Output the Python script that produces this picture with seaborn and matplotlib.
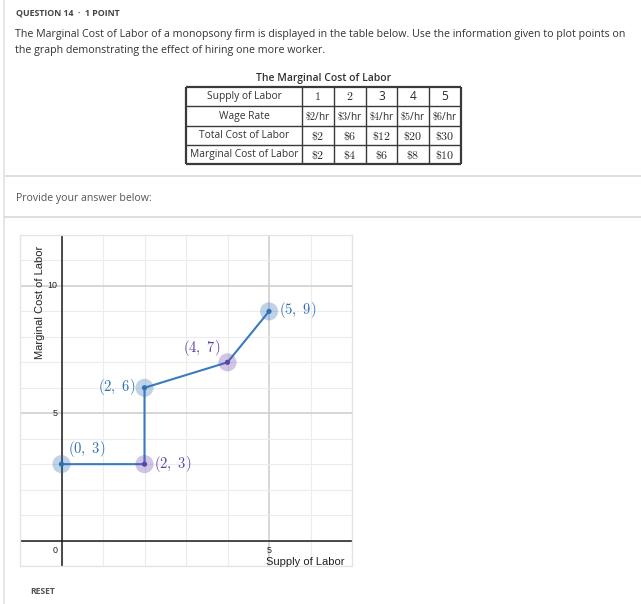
import matplotlib
matplotlib.use("Agg")
import matplotlib.pyplot as plt
import seaborn as sns
import pandas as pd
from matplotlib.lines import Line2D

# ---------------- data ----------------
table_title = "The Marginal Cost of Labor"
row_headers = ["Supply of Labor", "Wage Rate", "Total Cost of Labor", "Marginal Cost of Labor"]
supply_of_labor = [1, 2, 3, 4, 5]
wage_rate = [2, 3, 4, 5, 6]
total_cost = [2, 6, 12, 20, 30]
marginal_cost = [2, 4, 6, 8, 10]

point_x = [0, 2, 2, 4, 5]
point_y = [3, 3, 6, 7, 9]
point_kind = ["blue", "purple", "blue", "purple", "blue"]

x_ticks = [5]
y_ticks = [5, 10]
x_label = "Supply of Labor"
y_label = "Marginal Cost of Labor"

header_text = "QUESTION 14  \u00b7  1 POINT"
question_lines = [
    "The Marginal Cost of Labor of a monopsony firm is displayed in the table below. Use the information given to plot points on",
    "the graph demonstrating the effect of hiring one more worker.",
]
prompt_text = "Provide your answer below:"
reset_text = "RESET"

# ---------------- style ----------------
W, H = 641, 604
BLUE = "#2d70b3"
PURPLE = "#6042a6"
palette = {"blue": BLUE, "purple": PURPLE}
plt.rcParams["mathtext.fontset"] = "cm"
sns.set_style("white")

fig = plt.figure(figsize=(W / 100, H / 100), dpi=100)
fig.patch.set_facecolor("white")


def fx(x):
    return x / W


def fy(y):
    return 1 - y / H


def hline(x0, x1, y, color, lw):
    fig.add_artist(Line2D([fx(x0), fx(x1)], [fy(y), fy(y)], transform=fig.transFigure,
                          color=color, lw=lw, solid_capstyle="butt"))


def vline(x, y0, y1, color, lw):
    fig.add_artist(Line2D([fx(x), fx(x)], [fy(y0), fy(y1)], transform=fig.transFigure,
                          color=color, lw=lw, solid_capstyle="butt"))


SANS = ["Open Sans", "DejaVu Sans"]

# page chrome
vline(3.5, 0, H, "#e2e2e2", 1.2)
hline(4, W, 176, "#dcdcdc", 1.3)
hline(4, W, 217, "#dcdcdc", 1.3)

fig.text(fx(16), fy(13), header_text, family=SANS, fontsize=6.3, fontweight="bold",
         color="#444444", va="center", ha="left")
for i, line in enumerate(question_lines):
    fig.text(fx(15), fy(34 + 17 * i), line, family=SANS, fontsize=7.7, color="#333333",
             va="center", ha="left")
fig.text(fx(16), fy(198), prompt_text, family=SANS, fontsize=7.6, color="#555555",
         va="center", ha="left")
fig.text(fx(30), fy(591), reset_text, family=SANS, fontsize=6.2, fontweight="bold",
         color="#555555", va="center", ha="left")

# table
fig.text(fx(324), fy(78), table_title, family=SANS, fontsize=7.5, fontweight="semibold",
         color="#333333", va="center", ha="center")
col_edges = [186, 302, 334, 366, 397, 429, 461]
row_edges = [87, 106, 126, 145, 164]
for x in col_edges:
    lw = 1.6 if x in (col_edges[0], col_edges[-1]) else 1.0
    vline(x, row_edges[0], row_edges[-1], "#3a3a3a", lw)
for y in row_edges:
    lw = 1.6 if y in (row_edges[0], row_edges[-1]) else 1.0
    hline(col_edges[0], col_edges[-1], y, "#3a3a3a", lw)

rows = [
    [(f"${v}$" if v <= 2 else str(v)) for v in supply_of_labor],
    [rf"$\${v}$/hr" for v in wage_rate],
    [rf"$\${v}$" for v in total_cost],
    [rf"$\${v}$" for v in marginal_cost],
]
for r, header in enumerate(row_headers):
    yc = (row_edges[r] + row_edges[r + 1]) / 2
    fig.text(fx((col_edges[0] + col_edges[1]) / 2), fy(yc), header, family=SANS,
             fontsize=7.4, color="#333333", va="center", ha="center")
    for c, val in enumerate(rows[r]):
        xc = (col_edges[c + 1] + col_edges[c + 2]) / 2
        fs = 7.2 if r == 1 else 8.6
        fig.text(fx(xc), fy(yc), val, family=SANS, fontsize=fs, color="#2a2a2a",
                 va="center", ha="center")

# ---------------- plot ----------------
ax_left, ax_right, ax_top, ax_bottom = 20, 352, 235, 566
ax = fig.add_axes([fx(ax_left), fy(ax_bottom), (ax_right - ax_left) / W, (ax_bottom - ax_top) / H])
ax.set_xlim(-1, 7)
ax.set_ylim(-1, 12)
ax.set_xticks([])
ax.set_yticks([])
for s in ax.spines.values():
    s.set_color("#e4e4e4")
    s.set_linewidth(0.9)

for gx in range(-1, 8):
    major = gx % 5 == 0 and gx != 0
    ax.axvline(gx, color="#cfcfcf" if major else "#ececec", lw=1.2 if major else 0.8, zorder=0)
for gy in range(-1, 13):
    major = gy % 5 == 0 and gy != 0
    ax.axhline(gy, color="#cfcfcf" if major else "#ececec", lw=1.2 if major else 0.8, zorder=0)
ax.axvline(0, color="#1a1a1a", lw=1.1, zorder=1)
ax.axhline(0, color="#1a1a1a", lw=1.1, zorder=1)

TICK = ["Liberation Sans", "DejaVu Sans"]
for t in y_ticks:
    ax.annotate(str(t), (0, t), xytext=(-4, 0), textcoords="offset pixels", ha="right",
                va="center", family=TICK, fontsize=6.4, color="#222222")
ax.annotate("0", (0, 0), xytext=(-4, -5), textcoords="offset pixels", ha="right",
            va="top", family=TICK, fontsize=6.4, color="#222222")
for t in x_ticks:
    ax.annotate(str(t), (t, 0), xytext=(0, -5), textcoords="offset pixels", ha="center",
                va="top", family=TICK, fontsize=6.4, color="#222222")
ax.text(0.976, -0.002, x_label, transform=ax.transAxes, ha="right", va="bottom",
        family=TICK, fontsize=8, color="#222222")
ax.text(0.06, 0.968, y_label, transform=ax.transAxes, ha="center", va="top", rotation=90,
        family=TICK, fontsize=8, color="#222222")

df = pd.DataFrame({"x": point_x, "y": point_y, "kind": point_kind})
sns.lineplot(data=df, x="x", y="y", sort=False, estimator=None, color="#3a7bbf", lw=1.5,
             ax=ax, zorder=3, legend=False)
sns.scatterplot(data=df, x="x", y="y", hue="kind", palette=palette, s=170, alpha=0.3,
                linewidth=0, ax=ax, zorder=4, legend=False)
sns.scatterplot(data=df, x="x", y="y", hue="kind", palette=palette, s=14, linewidth=0,
                ax=ax, zorder=5, legend=False)
ax.set_xlabel("")
ax.set_ylabel("")

label_offsets = [(6, 15, "left"), (10, 0, "left"), (-9, 1, "right"), (-7, 14, "right"), (10, 1, "left")]
for (px_, py_, kind), (dx, dy, ha) in zip(zip(point_x, point_y, point_kind), label_offsets):
    ax.annotate(rf"$({px_},\ {py_})$", (px_, py_), xytext=(dx, dy), textcoords="offset pixels",
                ha=ha, va="center", fontsize=10.5, color=palette[kind], zorder=6)

fig.savefig("out.png", dpi=100, facecolor="white")
